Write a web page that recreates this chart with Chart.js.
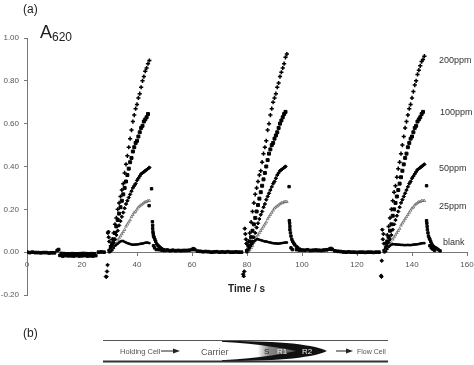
<!DOCTYPE html>
<html>
<head>
<meta charset="utf-8">
<script src="https://cdn.jsdelivr.net/npm/chart.js@4"></script>
<style>
  html, body { margin: 0; padding: 0; background: #fff; }
  #wrap { position: relative; width: 474px; height: 365px; overflow: hidden; font-family: "Liberation Sans", Arial, sans-serif; color: #222; filter: blur(0.4px); }
  #wrap canvas { position: absolute; left: 0; top: 0; }
  .lbl { position: absolute; white-space: nowrap; line-height: 1; }
  .ppm { font-size: 9px; color: #333; }
  svg { position: absolute; left: 0; top: 330px; }
  svg text { font-family: "Liberation Sans", Arial, sans-serif; }
</style>
</head>
<body>
<div id="wrap">
  <canvas id="chart" width="474" height="365"></canvas>
  <div class="lbl" style="left:23px;top:3px;font-size:12px">(a)</div>
  <div class="lbl" style="left:40px;top:23px;font-size:18px">A<span style="font-size:12px;position:relative;top:3px">620</span></div>
  <div class="lbl" style="left:228px;top:284px;font-size:10px;font-weight:bold">Time / s</div>
  <div class="lbl ppm" style="left:439px;top:56px">200ppm</div>
  <div class="lbl ppm" style="left:440px;top:108px">100ppm</div>
  <div class="lbl ppm" style="left:439px;top:164px">50ppm</div>
  <div class="lbl ppm" style="left:439px;top:202px">25ppm</div>
  <div class="lbl ppm" style="left:443px;top:238px">blank</div>
  <div class="lbl" style="left:23px;top:327px;font-size:12px">(b)</div>
  <svg width="474" height="35" viewBox="0 330 474 35">
    <defs>
      <linearGradient id="fade" x1="0" x2="1" y1="0" y2="0">
        <stop offset="0" stop-color="#fff"/>
        <stop offset="0.6" stop-color="#fff"/>
        <stop offset="0.72" stop-color="#888"/>
        <stop offset="1" stop-color="#555"/>
      </linearGradient>
    </defs>
    <path d="M222 341 C270 341 310 343 327 351 C310 359 270 361 222 361 Z" fill="#111"/>
    <path d="M200 341 C235 342 262 344 296 351 C262 358 235 360 200 361 Z" fill="url(#fade)"/>
    <line x1="103" x2="388" y1="340.5" y2="340.5" stroke="#555" stroke-width="1"/>
    <line x1="103" x2="388" y1="361.5" y2="361.5" stroke="#333" stroke-width="2"/>
    <text x="120" y="354" font-size="7.5" fill="#555">Holding Cell</text>
    <line x1="161" x2="177" y1="351" y2="351" stroke="#222"/>
    <path d="M180 351 L173 348.5 L173 353.5 Z" fill="#222"/>
    <text x="201" y="355" font-size="9" fill="#555">Carrier</text>
    <text x="264" y="354" font-size="8" fill="#222">S</text>
    <text x="277" y="354" font-size="8" fill="#eee">R1</text>
    <text x="302" y="354" font-size="8" fill="#eee">R2</text>
    <line x1="336" x2="350" y1="351" y2="351" stroke="#222"/>
    <path d="M353 351 L346 348.5 L346 353.5 Z" fill="#222"/>
    <text x="357" y="354" font-size="7" fill="#555">Flow Cell</text>
  </svg>
</div>
<script>
const yTicks = [1.0, 0.8, 0.6, 0.4, 0.2, 0, -0.2];
const xTicks = [0, 20, 40, 60, 80, 100, 120, 140, 160];

// sampling times of each injection
const time1 = [30,30.5,31,31.5,32,32.5,33,33.5,34,34.5,35,35.5,36,36.5,37,37.5,38,38.5,39,39.5,40,40.5,41,41.5,42,42.5,43,43.5,44,44.5];
const time2 = [80,80.5,81,81.5,82,82.5,83,83.5,84,84.5,85,85.5,86,86.5,87,87.5,88,88.5,89,89.5,90,90.5,91,91.5,92,92.5,93,93.5,94,94.5];
const time3 = [130,130.5,131,131.5,132,132.5,133,133.5,134,134.5,135,135.5,136,136.5,137,137.5,138,138.5,139,139.5,140,140.5,141,141.5,142,142.5,143,143.5,144,144.5];

// 200 ppm
const a200_1 = [.01,.03,.06,.09,.13,.16,.20,.23,.26,.29,.32,.37,.41,.45,.49,.53,.57,.61,.64,.67,.69,.72,.74,.77,.80,.82,.845,.86,.88,.895];
const a200_2 = [.01,.05,.09,.14,.19,.23,.27,.30,.33,.36,.38,.42,.46,.49,.52,.57,.60,.64,.67,.70,.72,.74,.77,.79,.82,.84,.86,.88,.91,.925];
const a200_3 = [.01,.04,.08,.12,.16,.20,.24,.28,.31,.35,.39,.42,.46,.50,.54,.58,.61,.64,.67,.69,.72,.75,.78,.80,.83,.85,.87,.89,.90,.915];
// 100 ppm
const a100_1 = [.005,.02,.04,.06,.09,.12,.15,.18,.21,.24,.27,.30,.33,.36,.39,.42,.44,.47,.49,.51,.52,.54,.56,.58,.59,.61,.62,.63,.645];
const a100_2 = [.005,.03,.05,.07,.10,.13,.16,.19,.22,.25,.28,.31,.34,.37,.40,.43,.46,.48,.50,.51,.53,.545,.56,.58,.60,.615,.63,.645,.655];
const a100_3 = [.005,.02,.05,.07,.10,.13,.17,.20,.23,.26,.29,.32,.35,.38,.41,.44,.46,.49,.51,.53,.54,.56,.58,.59,.61,.62,.63,.645,.655];
// 50 ppm
const a50_1 = [.01,.02,.03,.045,.06,.08,.10,.125,.145,.165,.185,.205,.225,.24,.255,.27,.285,.30,.31,.32,.335,.345,.355,.365,.37,.375,.38,.385,.39,.395];
const a50_2 = [.005,.01,.02,.035,.05,.07,.09,.115,.135,.155,.175,.19,.21,.225,.245,.26,.275,.29,.305,.32,.33,.345,.36,.37,.38,.385,.39,.395,.40];
const a50_3 = [.005,.015,.03,.045,.06,.08,.105,.13,.15,.17,.19,.21,.23,.245,.26,.275,.29,.305,.32,.33,.345,.355,.365,.375,.385,.39,.395,.40,.405,.41];
// 25 ppm
const a25_1 = [0,.005,.01,.02,.03,.04,.055,.065,.075,.085,.095,.105,.12,.13,.14,.15,.165,.175,.185,.19,.20,.21,.215,.22,.225,.23,.235,.235,.24,.24];
const a25_2 = [0,.005,.01,.02,.03,.045,.055,.07,.08,.09,.10,.11,.12,.13,.14,.155,.165,.175,.185,.195,.205,.21,.215,.22,.225,.23,.23,.235,.235,.235];
const a25_3 = [0,.005,.015,.025,.035,.045,.06,.07,.08,.09,.10,.11,.125,.135,.145,.155,.165,.175,.185,.195,.205,.21,.22,.225,.23,.235,.235,.24,.24,.24];
// blank
const blank_1 = [0,.005,.01,.02,.03,.035,.04,.045,.05,.052,.052,.048,.045,.042,.04,.038,.036,.035,.035,.036,.036,.037,.038,.04,.04,.042,.044,.045,.044,.042];
const blank_2 = [0,.01,.02,.03,.04,.05,.055,.06,.06,.058,.056,.054,.052,.05,.05,.048,.046,.045,.043,.042,.041,.041,.04,.04,.041,.042,.043,.044,.045,.045];
const blank_3 = [0,.005,.015,.025,.03,.035,.037,.037,.036,.036,.035,.035,.034,.034,.033,.033,.033,.034,.033,.033,.034,.035,.036,.036,.037,.038,.04,.041,.042,.042];

// flow-stop transients just before each rise
const spikeTime = [28.7,28.9,29.1,29.3,29.6,29.4,29.7,29.9, 78.6,78.8,79,79.2,79.4,79.6,79.8, 128.8,128.9,129,129.2,129.6,129.4,129.8];
const spikeValue = [-.114,-.115,-.09,-.06,.095,.09,.07,.05, -.103,-.112,-.09,.11,.085,.06,.04, -.11,-.115,-.04,.105,.085,.06,.04];

// decay after each peak
const decayTime = [44.4,45.3,45.6,45.7,45.7,45.8,45.9,46,46.2,46.5,46.8,47.2,47.6,48,48.4,49,49.8,46,46.4,47, 95.3,95.4,95.5,95.6,95.6,95.8,96,96.3,96.6,97,97.4,98,98.5,99.2,96,96.5, 145.3,145.3,145.4,145.5,145.6,145.8,146,146.3,146.5,146.8,147.1,147.4,147.7,148,148.5,149,149.5,150.2,146.5,147,147.6,148.2];
const decayValue = [.217,.296,.142,.125,.11,.095,.085,.075,.07,.06,.05,.038,.032,.026,.022,.016,.011,.03,.02,.012, .306,.147,.135,.12,.105,.09,.075,.06,.05,.042,.034,.026,.02,.014,.02,.012, .31,.147,.135,.12,.105,.09,.075,.065,.06,.05,.04,.032,.027,.024,.02,.017,.012,.006,.03,.02,.014,.008];

// flat carrier signal between the peaks
const baseTime = [0,1,2,3,4,5,6,7,8,9,10,11,11.5,12,12.5,13,13.5,14,14.5,15,15.5,16,16.5,17,17.5,18,18.5,19,19.5,20,20.5,21,21.5,22,22.5,23,23.5,24,24.5,25,26,27,28,
  48,49,50,51,52,53,54,55,56,57,58,59,60,60.5,61,62,63,64,65,66,67,68,69,70,71,72,73,74,75,76,77,78,
  98,99,100,101,102,103,104,105,106,107,108,109,110,110.5,111,112,113,114,115,116,117,118,119,120,121,122,123,124,125,126,127,128];
const baseValue = [0,-.002,0,-.002,-.002,-.003,-.002,-.002,-.004,-.003,-.003,.008,.012,-.015,-.006,-.018,-.007,-.016,-.008,-.017,-.008,-.017,-.007,-.018,-.008,-.016,-.008,-.018,-.007,-.017,-.006,-.016,-.007,-.018,-.008,-.017,-.007,-.018,-.008,-.016,0,.001,0,
  .012,.01,.008,.01,.007,.009,.007,.008,.007,.008,.008,.009,.012,.016,.012,.005,.004,.002,.003,.002,0,.001,.002,0,.001,0,.002,0,0,.001,0,0,
  .012,.01,.01,.009,.011,.008,.009,.01,.009,.008,.01,.011,.014,.017,.013,.006,.004,.003,.001,0,.001,0,0,-.001,0,0,-.001,0,0,-.001,0,0];

const pts = (t, v) => v.map((y, i) => ({ x: t[i], y: y }));
const three = (a, b, c) => [...pts(time1, a), ...pts(time2, b), ...pts(time3, c)];

const marks = (data, style, radius, extra) => Object.assign({
  data: data, pointStyle: style, pointRadius: radius,
  pointBackgroundColor: '#000', pointBorderColor: '#000', pointBorderWidth: 1, showLine: false
}, extra);

new Chart(document.getElementById('chart'), {
  type: 'scatter',
  data: {
    datasets: [
      marks(pts(baseTime, baseValue), 'rect', 1.9),
      marks(three(blank_1, blank_2, blank_3), 'rect', 1.1),
      marks(three(a25_1, a25_2, a25_3), 'triangle', 1.5, { pointBackgroundColor: '#fff', pointBorderColor: '#555', pointBorderWidth: 0.7 }),
      marks(three(a50_1, a50_2, a50_3), 'rectRot', 1.7),
      marks(three(a100_1, a100_2, a100_3), 'rect', 2.1),
      marks(three(a200_1, a200_2, a200_3), 'cross', 2.1, { pointBorderWidth: 1.5 }),
      marks(pts(spikeTime, spikeValue), 'rectRot', 1.8),
      marks(pts(decayTime, decayValue), 'rect', 1.7)
    ]
  },
  options: {
    responsive: false,
    animation: false,
    layout: { padding: { left: 0, right: 7, top: 38, bottom: 70 } },
    plugins: { legend: { display: false }, tooltip: { enabled: false } },
    scales: {
      x: {
        type: 'linear',
        min: 0,
        max: 160,
        position: { y: 0 },
        afterBuildTicks: (axis) => { axis.ticks = xTicks.map(v => ({ value: v })); },
        afterFit: (axis) => { axis.paddingLeft = 0; axis.paddingRight = 0; },
        border: { color: '#777' },
        grid: { drawOnChartArea: false, tickLength: 3, color: '#777' },
        ticks: { color: '#555', font: { size: 8, family: 'Liberation Sans' }, padding: 5, maxRotation: 0, autoSkip: false }
      },
      y: {
        min: -0.2,
        max: 1,
        afterFit: (axis) => { axis.width = 27; axis.paddingTop = 0; axis.paddingBottom = 0; },
        afterBuildTicks: (axis) => { axis.ticks = yTicks.map(v => ({ value: v })); },
        border: { color: '#777' },
        grid: { drawOnChartArea: false, tickLength: 3, color: '#777' },
        ticks: {
          color: '#555',
          font: { size: 8, family: 'Liberation Sans' },
          padding: 5,
          callback: (v) => v.toFixed(2)
        }
      }
    }
  }
});
</script>
</body>
</html>
